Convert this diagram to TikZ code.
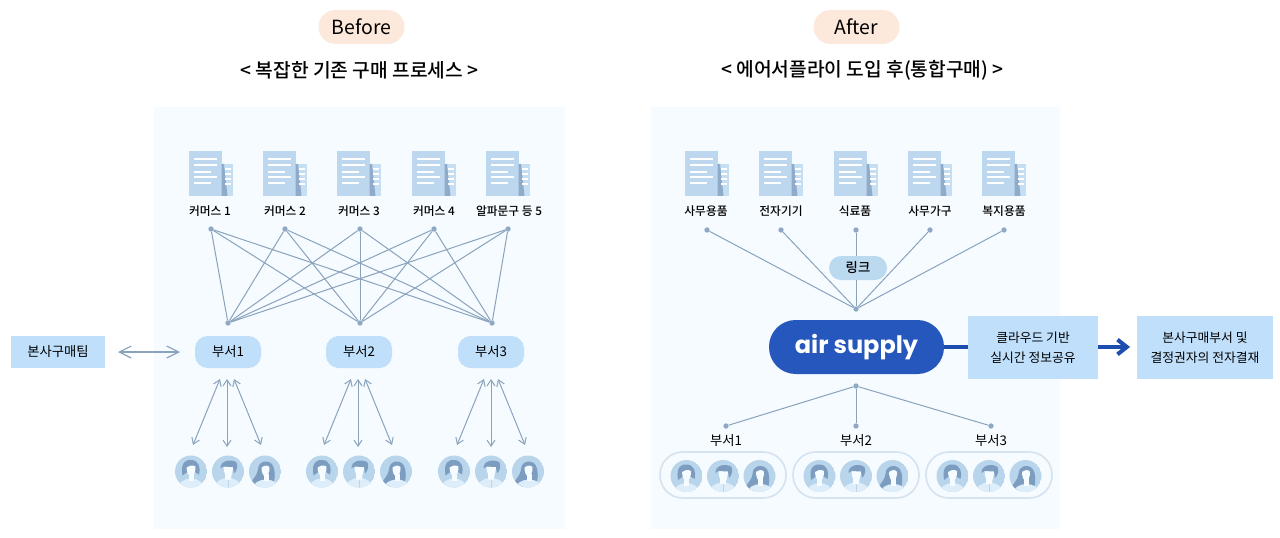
\documentclass[tikz,border=0pt]{standalone}
\usepackage{fontspec}
\setmainfont{Noto Sans CJK KR}
\newfontfamily\medfont{Noto Sans CJK KR Medium}
\newfontfamily\logofont{Poppins}
\usetikzlibrary{arrows.meta}
\definecolor{panelbg}{HTML}{F5FBFF}
\definecolor{peach}{HTML}{FCE9DC}
\definecolor{boxblue}{HTML}{BFDFFB}
\definecolor{pillblue}{HTML}{BFDFFA}
\definecolor{linkblue}{HTML}{BBD9EF}
\definecolor{docblue}{HTML}{BCD7EE}
\definecolor{docside}{HTML}{C6DEF2}
\definecolor{docdark}{HTML}{8FABC9}
\definecolor{lineblue}{HTML}{8AA2BC}
\definecolor{dotblue}{HTML}{8FA8C4}
\definecolor{royal}{HTML}{2557BC}
\definecolor{navy}{HTML}{1D4DAE}
\definecolor{ringblue}{HTML}{D5E3F0}
\definecolor{headbg}{HTML}{B8D5EC}
\definecolor{hair}{HTML}{7C9DBF}
\definecolor{face}{HTML}{F6FBFF}
\definecolor{shirt}{HTML}{DDEDF9}
\tikzset{
  x=0.75pt,y=-0.75pt,
  panel/.style={fill=panelbg},
  tagpill/.style={fill=peach,rounded corners=12.75pt,minimum width=64.5pt,minimum height=25.5pt,inner sep=0pt,font=\fontsize{14.6}{16}\selectfont},
  heading/.style={font=\fontsize{14.4}{16}\medfont,inner sep=0pt},
  doclabel/.style={font=\fontsize{8.8}{10}\medfont,inner sep=0pt},
  dot/.style={circle,fill=dotblue,minimum size=4pt,inner sep=0pt},
  linkline/.style={draw=lineblue,line width=0.75pt},
  dept/.style={fill=pillblue,rounded corners=9.5pt,minimum width=49.5pt,minimum height=24pt,inner sep=0pt,font=\fontsize{10}{12}\selectfont},
  bluebox/.style={fill=boxblue,inner sep=0pt,align=center,font=\fontsize{9.6}{15}\selectfont},
  twoway/.style={draw=lineblue,line width=0.75pt,{Straight Barb[length=4.5pt,width=6pt]}-{Straight Barb[length=4.5pt,width=6pt]}},
  wideway/.style={draw=lineblue,line width=0.9pt,{Straight Barb[length=9pt,width=9pt]}-{Straight Barb[length=9pt,width=9pt]}},
  ring/.style={draw=ringblue,line width=1.2pt,fill=panelbg,rounded corners=17pt,minimum width=94.5pt,minimum height=34.5pt,inner sep=0pt},
  thickblue/.style={draw=navy,line width=3pt},
  doc/.pic={
    \fill[docblue] (0,0) rectangle (33,45);
    \fill[docside] (33,13) rectangle (44,45);
    \fill[docdark] (32.5,13) -- (35,13) -- (38.5,45) -- (32.5,45) -- cycle;
    \foreach \yy/\xe in {8/23,14/23,21/17,26/23,32/17}
      \fill[white] (5,\yy-0.8) rectangle (\xe+5,\yy+0.8);
    \foreach \yy in {18,23,28,33}
      \fill[white] (36,\yy-0.8) rectangle (42,\yy+0.8);
  },
  persona/.pic={
    \begin{scope}
    \clip (0,0) circle[radius=16];
    \fill[headbg] (0,0) circle[radius=16];
    \fill[shirt] (0,17) ellipse[x radius=13,y radius=10];
    \fill[hair] (-8.5,4) .. controls (-11,-10) and (-4,-12) .. (0,-11.5) .. controls (8,-11.5) and (10,-3) .. (8,3) -- (3,0) -- (-3,0) -- cycle;
    \fill[face] (-4.5,-4) .. controls (-2,-6) and (1,-7) .. (4.5,-5) .. controls (5,1) and (2,5) .. (0,5) .. controls (-2,5) and (-4.5,1) .. (-4.5,-4) -- cycle;
    \fill[face] (-2.5,2) rectangle (2.5,9.5);
    \end{scope}
  },
  personb/.pic={
    \begin{scope}
    \clip (0,0) circle[radius=16];
    \fill[headbg] (0,0) circle[radius=16];
    \fill[shirt] (0,17) ellipse[x radius=14,y radius=10.5];
    \fill[docdark!40!shirt] (-0.4,8) rectangle (0.4,16);
    \fill[face] (-4.5,-5) -- (5,-5) .. controls (5,1) and (3,3) .. (3,8) -- (-3,8) -- (-3,3) .. controls (-4,0) and (-4.5,-2) .. (-4.5,-5) -- cycle;
    \fill[hair] (-7.5,-3) .. controls (-8,-11) and (3,-13) .. (8.5,-9) .. controls (10,-5) and (9,-1) .. (6,2) -- (5,-4.5) -- (-4.5,-5) -- cycle;
    \end{scope}
  },
  personc/.pic={
    \begin{scope}
    \clip (0,0) circle[radius=16];
    \fill[headbg] (0,0) circle[radius=16];
    \fill[hair] (-14,12) .. controls (-12,6) and (-8,5) .. (-7,-2) .. controls (-7,-12) and (7,-13) .. (9,-3) .. controls (10,2) and (10,6) .. (9,10) -- (-8,16) -- cycle;
    \fill[shirt] (1,17) ellipse[x radius=13,y radius=9];
    \fill[face] (-3.5,-4) .. controls (-1,-6) and (3,-7) .. (4.5,-4) .. controls (5,1) and (2,5) .. (1,5) .. controls (-2,5) and (-3.5,1) .. (-3.5,-4) -- cycle;
    \fill[face] (-1.5,2) rectangle (3.5,9.5);
    \end{scope}
  },
}
\begin{document}
\begin{tikzpicture}
\useasboundingbox (0,0) rectangle (1280,538);
\fill[white] (0,0) rectangle (1280,538);
\fill[panel] (154,107) rectangle (565,529);
\fill[panel] (651,107) rectangle (1060,529);

% Headers
\node[tagpill] (before) at (361.5,27) {Before};
\node[tagpill] (after) at (856.5,27) {After};
\node[heading] (titleL) at (359.5,70) {< 복잡한 기존 구매 프로세스 >};
\node[heading] (titleR) at (862.5,70) {< 에어서플라이 도입 후(통합구매) >};

% Left documents
\foreach \xx in {189,263,337,412,486} \pic at (\xx,151) {doc};
\node[doclabel] (lc1) at (210,211) {커머스 1};
\node[doclabel] (lc2) at (285,211) {커머스 2};
\node[doclabel] (lc3) at (359,211) {커머스 3};
\node[doclabel] (lc4) at (434,211) {커머스 4};
\node[doclabel] (lc5) at (509,211) {알파문구 등 5};

% Left mesh
\foreach \n/\xx in {1/211,2/285,3/360,4/434,5/508} \node[dot] (t\n) at (\xx,229) {};
\foreach \n/\xx in {1/228,2/360,3/492} \node[dot] (b\n) at (\xx,323) {};
\foreach \i in {1,...,5} \foreach \j in {1,2,3} \draw[linkline] (t\i) -- (b\j);

% Left departments
\node[dept] (d1) at (228,352) {부서1};
\node[dept] (d2) at (359,352) {부서2};
\node[dept] (d3) at (491,352) {부서3};
\node[bluebox,minimum width=70.5pt,minimum height=24pt,font=\fontsize{10}{12}\selectfont] (hq) at (58,352) {본사구매팀};
\coordinate (hqa) at (118,352);
\coordinate (hqb) at (180,352);
\draw[wideway] (hqa) -- (hqb);

% Left arrows and people
\foreach \n/\cx in {1/227,2/358,3/491}{
  \coordinate (u\n a) at (\cx-7,379);
  \coordinate (u\n b) at (\cx,379);
  \coordinate (u\n c) at (\cx+7,379);
  \coordinate (l\n a) at (\cx-34,445);
  \coordinate (l\n b) at (\cx,447);
  \coordinate (l\n c) at (\cx+34,445);
  \draw[twoway] (u\n a) -- (l\n a);
  \draw[twoway] (u\n b) -- (l\n b);
  \draw[twoway] (u\n c) -- (l\n c);
}
\foreach \cx in {228,359,491}{
  \pic at (\cx-37,471.5) {persona};
  \pic at (\cx,471.5) {personb};
  \pic at (\cx+37,471.5) {personc};
}

% Right documents
\foreach \xx in {685,759,834,908,982} \pic at (\xx,151) {doc};
\node[doclabel] (rc1) at (706,211) {사무용품};
\node[doclabel] (rc2) at (781,211) {전자기기};
\node[doclabel] (rc3) at (855,211) {식료품};
\node[doclabel] (rc4) at (930,211) {사무가구};
\node[doclabel] (rc5) at (1004,211) {복지용품};

% Right fan
\foreach \n/\xx in {1/707,2/781,3/856,4/930,5/1004} \node[dot] (rt\n) at (\xx,230) {};
\node[dot] (hub) at (856,309) {};
\foreach \i in {1,...,5} \draw[linkline] (rt\i) -- (hub);
\node[fill=linkblue,rounded corners=9pt,minimum width=43.5pt,minimum height=18pt,inner sep=0pt,font=\fontsize{10}{12}\medfont] (link) at (858,268) {링크};

% Air supply row
\node[bluebox,minimum width=97.5pt,minimum height=47.25pt] (cloud) at (1033,347.5) {클라우드 기반\\실시간 정보공유};
\node[bluebox,minimum width=102pt,minimum height=47.25pt] (pay) at (1205,347.5) {본사구매부서 및\\결정권자의 전자결재};
\node[fill=royal,rounded corners=20pt,minimum width=131.25pt,minimum height=40.5pt,inner sep=0pt,text=white,font=\fontsize{18}{20}\logofont\bfseries] (air) at (856.5,347) {air supply};
\draw[thickblue] (air.east) -- (air.east -| cloud.west);
\draw[thickblue,-{Straight Barb[length=7pt,width=11pt]}] (air.east -| cloud.east) -- ([xshift=-5pt]air.east -| pay.west);

% Right lower fan
\node[dot] (hub2) at (856,386) {};
\foreach \n/\xx in {1/726,2/856,3/991} {
  \node[dot] (rb\n) at (\xx,426) {};
  \draw[linkline] (hub2) -- (rb\n);
}
\node[font=\fontsize{10}{12}\selectfont,inner sep=0pt] (rd1) at (726,441) {부서1};
\node[font=\fontsize{10}{12}\selectfont,inner sep=0pt] (rd2) at (856,441) {부서2};
\node[font=\fontsize{10}{12}\selectfont,inner sep=0pt] (rd3) at (991,441) {부서3};
\foreach \n/\cx in {1/723,2/856,3/989}{
  \node[ring] (g\n) at (\cx,475) {};
  \pic at (\cx-36.5,476) {persona};
  \pic at (\cx,476) {personb};
  \pic at (\cx+36.5,476) {personc};
}
\end{tikzpicture}
\end{document}
